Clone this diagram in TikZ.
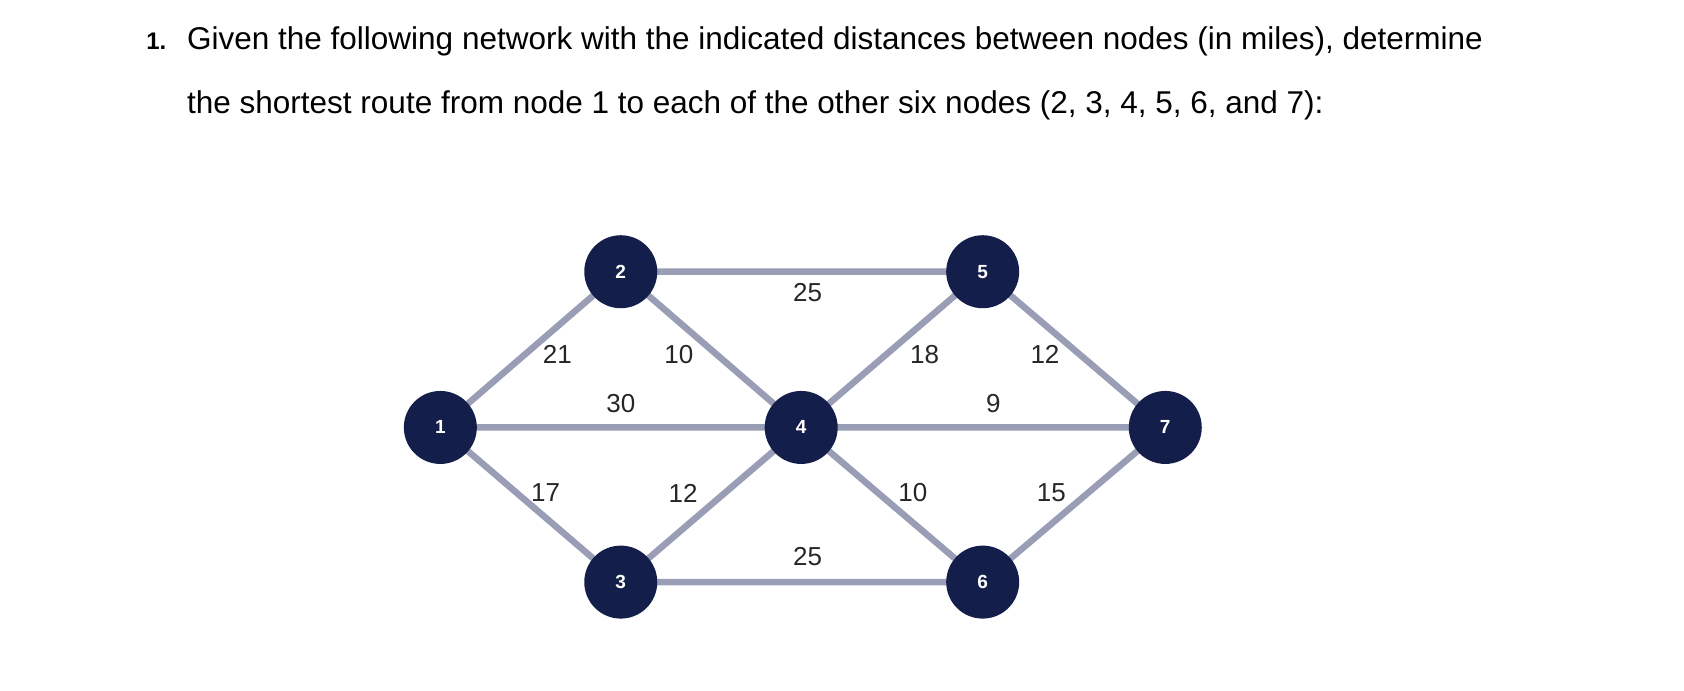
\documentclass[tikz,border=0pt]{standalone}
\usepackage{fontspec}
\setmainfont{Liberation Sans}
\begin{document}
\begin{tikzpicture}[x=1.074pt,y=-1.074pt,
  nd/.style={circle,fill=navy,minimum size=73pt,inner sep=0pt,text=white,font=\fontsize{19}{19}\selectfont\bfseries},
  ed/.style={draw=edgec,line width=6.5pt},
  lb/.style={font=\fontsize{26}{26}\selectfont,text=black!85},
  tt/.style={font=\fontsize{31.5}{31.5}\selectfont,anchor=base west}]
\definecolor{navy}{HTML}{141E4A}
\definecolor{edgec}{HTML}{9A9DB6}
\useasboundingbox (0,0) rectangle (1568,642.5);
\node[tt,font=\fontsize{24}{24}\selectfont\bfseries] (n) at (133,46) {1.};
\node[tt] (t1) at (171,46) {Given the following network with the indicated distances between nodes (in miles), determine};
\node[tt] (t2) at (171,106) {the shortest route from node 1 to each of the other six nodes (2, 3, 4, 5, 6, and 7):};
\coordinate (p1) at (410,398); \coordinate (p2) at (578,253); \coordinate (p3) at (578,542);
\coordinate (p4) at (746,398); \coordinate (p5) at (915,253); \coordinate (p6) at (915,542);
\coordinate (p7) at (1085,398);
\draw[ed] (p1)--(p2) (p1)--(p4) (p1)--(p3) (p2)--(p5) (p2)--(p4) (p3)--(p4) (p3)--(p6)
  (p4)--(p5) (p4)--(p7) (p4)--(p6) (p5)--(p7) (p6)--(p7);
\node[nd] (a1) at (p1) {1}; \node[nd] (a2) at (p2) {2}; \node[nd] (a3) at (p3) {3};
\node[nd] (a4) at (p4) {4}; \node[nd] (a5) at (p5) {5}; \node[nd] (a6) at (p6) {6};
\node[nd] (a7) at (p7) {7};
\node[lb] (l1) at (752,272) {25};
\node[lb] (l2) at (519,330) {21};
\node[lb] (l3) at (632,330) {10};
\node[lb] (l4) at (861,330) {18};
\node[lb] (l5) at (973,330) {12};
\node[lb] (l6) at (578,376) {30};
\node[lb] (l7) at (925,376) {9};
\node[lb] (l8) at (508,459) {17};
\node[lb] (l9) at (636,459) {12};
\node[lb] (l10) at (850,459) {10};
\node[lb] (l11) at (979,459) {15};
\node[lb] (l12) at (752,518) {25};
\end{tikzpicture}
\end{document}
